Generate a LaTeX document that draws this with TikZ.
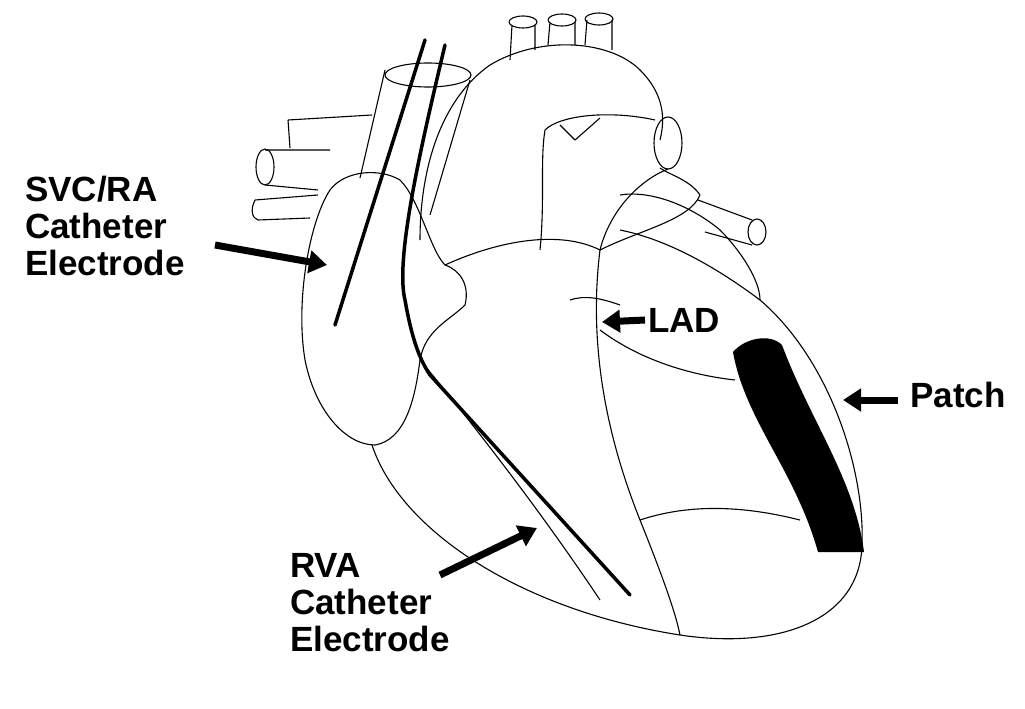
\documentclass[tikz,border=0pt]{standalone}
\usepackage{fontspec}
\setmainfont{Liberation Sans}
\usetikzlibrary{arrows.meta}
\begin{document}
\begin{tikzpicture}[x=1pt,y=-1pt,
  ln/.style={line width=1.1pt,line join=round},
  cath/.style={line width=3.5pt,line cap=round},
  arr/.style={line width=7pt,-{Triangle[length=18pt,width=22pt]}},
  lab/.style={font=\fontsize{35}{37}\selectfont\bfseries,align=left,inner sep=0pt}]
\useasboundingbox (0,0) rectangle (1025,709);
% ventricles outline
\draw[ln] (372,445) .. controls (400,530) and (520,610) .. (680,635)
  .. controls (780,650) and (860,620) .. (862,545)
  .. controls (865,470) and (830,360) .. (760,300)
  .. controls (720,270) and (670,240) .. (620,230);
% right atrium
\draw[ln] (330,190) .. controls (310,220) and (295,300) .. (305,360)
  .. controls (315,410) and (345,445) .. (375,445)
  .. controls (405,440) and (415,400) .. (420,360)
  .. controls (425,330) and (450,320) .. (465,305)
  .. controls (470,285) and (460,270) .. (445,265)
  .. controls (430,250) and (420,200) .. (400,180)
  .. controls (380,168) and (345,170) .. (330,190);
% RV/LV border lines
\draw[ln] (420,360) .. controls (470,420) and (540,510) .. (600,600);
\draw[ln] (445,265) .. controls (500,240) and (560,230) .. (600,250)
  .. controls (590,330) and (600,420) .. (640,520) .. controls (660,570) and (675,610) .. (680,635);
% aorta arch
\draw[ln] (420,240) .. controls (420,170) and (440,100) .. (490,65)
  .. controls (540,35) and (610,40) .. (640,70)
  .. controls (665,95) and (665,120) .. (660,140);
% aortic branches
\draw[ln] (510,60) -- (512,25) (535,50) -- (535,25);
\draw[ln] (523,22) ellipse (14 and 6);
\draw[ln] (548,45) -- (550,22) (575,45) -- (575,22);
\draw[ln] (562,20) ellipse (14 and 6);
\draw[ln] (585,45) -- (587,20) (612,50) -- (612,20);
\draw[ln] (599,19) ellipse (14 and 6);
% pulmonary trunk
\draw[ln] (540,250) .. controls (545,200) and (540,160) .. (545,130)
  .. controls (560,115) and (610,110) .. (655,120);
\draw[ln] (668,143) ellipse (14 and 26);
\draw[ln] (560,125) -- (575,140) -- (600,118);
\draw[ln] (600,250) .. controls (610,210) and (640,180) .. (668,169);
% left atrium / appendage
\draw[ln] (600,250) .. controls (640,230) and (690,220) .. (700,195)
  .. controls (690,180) and (670,175) .. (660,168);
\draw[ln] (620,195) .. controls (650,190) and (690,205) .. (720,230)
  .. controls (740,250) and (760,280) .. (760,300);
% right pulmonary vein
\draw[ln] (698,200) -- (752,220) (705,232) -- (752,245);
\draw[ln] (757,232) ellipse (9 and 13);
% SVC
\draw[ln] (385,70) -- (360,178) (470,80) -- (430,215);
\draw[ln] (428,75) ellipse (43 and 12);
% left pulmonary veins
\draw[ln] (288,120) -- (372,115) (288,120) -- (290,148);
\draw[ln] (265,150) -- (330,150) (265,185) -- (318,190);
\draw[ln] (265,167) ellipse (9 and 18);
\draw[ln] (255,200) -- (318,195) (255,200) .. controls (250,210) and (252,218) .. (258,220) -- (310,218);
% inner LV lines
\draw[ln] (570,300) .. controls (585,295) and (600,298) .. (620,305);
\draw[ln] (600,330) .. controls (640,360) and (690,375) .. (735,380);
\draw[ln] (640,520) .. controls (700,500) and (760,510) .. (800,520);
% catheters
\draw[cath] (425,40) -- (335,325);
\draw[cath] (445,45) .. controls (420,150) and (395,260) .. (405,300)
  .. controls (412,340) and (420,360) .. (430,375) -- (630,595);
% patch
\fill (733,352) .. controls (745,338) and (770,333) .. (782,345)
  .. controls (810,420) and (855,480) .. (864,552)
  -- (818,552) .. controls (795,470) and (745,420) .. (733,352) -- cycle;
% labels
\node[lab,anchor=north west] (svc) at (25,176) {SVC/RA\\Catheter\\Electrode};
\node[lab,anchor=north west] (rva) at (290,553) {RVA\\Catheter\\Electrode};
\node[lab,anchor=west] (lad) at (648,320) {LAD};
\node[lab,anchor=west] (patch) at (910,395) {Patch};
\coordinate (a1s) at (215,245); \coordinate (a1e) at (327,265);
\coordinate (a2s) at (440,575); \coordinate (a2e) at (537,528);
\coordinate (a3s) at (645,320); \coordinate (a3e) at (602,322);
\coordinate (a4s) at (898,400); \coordinate (a4e) at (843,400);
\draw[arr] (a1s) -- (a1e);
\draw[arr] (a2s) -- (a2e);
\draw[arr] (a3s) -- (a3e);
\draw[arr] (a4s) -- (a4e);
\end{tikzpicture}
\end{document}
